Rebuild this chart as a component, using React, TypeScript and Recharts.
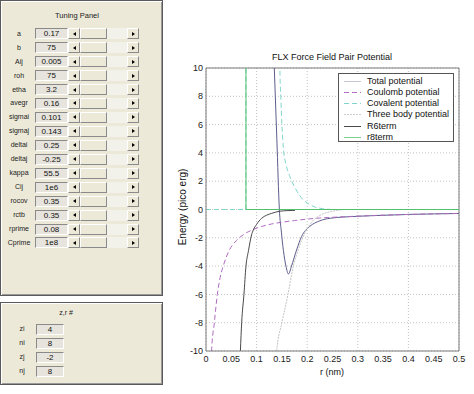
import React from 'react';
import { LineChart, Line, XAxis, YAxis, CartesianGrid, Legend, ReferenceLine } from 'recharts';

// ---- Tuning panel content ----
const paramLabels = ['a', 'b', 'Aij', 'roh', 'etha', 'avegr', 'sigmai', 'sigmaj', 'deltai', 'deltaj', 'kappa', 'Cij', 'rocov', 'rctb', 'rprime', 'Cprime'];
const paramValues = ['0.17', '75', '0.005', '75', '3.2', '0.16', '0.101', '0.143', '0.25', '-0.25', '55.5', '1e6', '0.35', '0.35', '0.08', '1e8'];
const zrLabels = ['zi', 'ni', 'zj', 'nj'];
const zrValues = ['4', '8', '-2', '8'];

// ---- Chart axes ----
const xTicks = [0, 0.05, 0.1, 0.15, 0.2, 0.25, 0.3, 0.35, 0.4, 0.45, 0.5];
const yTicks = [-10, -8, -6, -4, -2, 0, 2, 4, 6, 8, 10];

// ---- Series (r in nm, energy in pico erg) ----
const totalR = [0.128, 0.135, 0.140, 0.145, 0.149, 0.153, 0.158, 0.163, 0.169, 0.179, 0.189, 0.205, 0.225, 0.245, 0.3, 0.35, 0.4, 0.45, 0.5];
const totalE = [17, 10, 5, 0, -1.6, -2.9, -4.0, -4.56, -4.0, -2.86, -1.9, -1.2, -0.8, -0.62, -0.48, -0.41, -0.35, -0.31, -0.28];

const coulombR = [0.008, 0.011, 0.0165, 0.0224, 0.028, 0.034, 0.045, 0.06, 0.075, 0.0935, 0.11, 0.13, 0.15, 0.175, 0.2, 0.225, 0.25, 0.3, 0.35, 0.4, 0.45, 0.5];
const coulombE = [-14, -10, -8, -6, -4.8, -4, -2.95, -2.2, -1.75, -1.41, -1.2, -1.02, -0.9, -0.78, -0.68, -0.6, -0.55, -0.47, -0.4, -0.35, -0.31, -0.28];

const covalentR = [0, 0.079, 0.0791, 0.14, 0.146, 0.148, 0.15, 0.153, 0.158, 0.165, 0.175, 0.185, 0.195, 0.205, 0.215, 0.23, 0.25, 0.5];
const covalentE = [0, 0, 40, 40, 10, 7.8, 6, 4.3, 3.2, 2.4, 1.6, 1.0, 0.6, 0.35, 0.18, 0.06, 0, 0];

const threeBodyR = [0.132, 0.1397, 0.15, 0.162, 0.1726, 0.18, 0.19, 0.2, 0.21, 0.225, 0.25, 0.28, 0.5];
const threeBodyE = [-14, -10, -8, -6, -4, -3.1, -2.1, -1.35, -0.85, -0.42, -0.12, 0, 0];

const r6R = [0.066, 0.068, 0.0705, 0.075, 0.079, 0.084, 0.09, 0.0935, 0.1, 0.11, 0.12, 0.13, 0.146, 0.16, 0.176];
const r6E = [-12, -10, -8, -6, -4, -2.9, -1.8, -1.45, -1.05, -0.62, -0.4, -0.27, -0.12, -0.08, -0.06];

const r8R = [0.0789, 0.079, 0.5];
const r8E = [40, 0, 0];

const zip = (r: number[], e: number[]) => r.map((v, i) => ({ r: v, e: e[i] }));

const SERIES = [
  { name: 'Total potential', data: zip(totalR, totalE), color: '#5d5d8c', swatch: '#c6c6d4', dash: undefined as string | undefined, type: 'monotone' },
  { name: 'Coulomb potential', data: zip(coulombR, coulombE), color: '#b06cc0', swatch: '#b06cc0', dash: '5 3', type: 'monotone' },
  { name: 'Covalent potential', data: zip(covalentR, covalentE), color: '#7fd6cc', swatch: '#7fd6cc', dash: '5 3', type: 'monotone' },
  { name: 'Three body potential', data: zip(threeBodyR, threeBodyE), color: '#c4c4c4', swatch: '#cfcfcf', dash: '2 1', type: 'monotone' },
  { name: 'R6term', data: zip(r6R, r6E), color: '#4a4a4a', swatch: '#4a4a4a', dash: undefined, type: 'monotone' },
  { name: 'r8term', data: zip(r8R, r8E), color: '#52c06c', swatch: '#7ed08e', dash: undefined, type: 'linear' },
];

const FONT = '"Liberation Sans", Arial, sans-serif';
const PANEL_BG = '#ece9d8';

const raised: React.CSSProperties = {
  position: 'absolute',
  boxSizing: 'border-box',
  background: PANEL_BG,
  borderTop: '1px solid #ffffff',
  borderLeft: '1px solid #ffffff',
  borderRight: '1px solid #8a8a8a',
  borderBottom: '1px solid #8a8a8a',
};

const sunken: React.CSSProperties = {
  position: 'absolute',
  boxSizing: 'border-box',
  background: '#e6e4dc',
  borderTop: '1px solid #8a8a8a',
  borderLeft: '1px solid #8a8a8a',
  borderRight: '1px solid #ffffff',
  borderBottom: '1px solid #ffffff',
  textAlign: 'center',
  fontSize: 8,
  lineHeight: '9px',
  color: '#111',
};

function Arrow({ dir }: { dir: 'left' | 'right' }) {
  const st: React.CSSProperties = {
    position: 'absolute',
    left: 4,
    top: 2.5,
    width: 0,
    height: 0,
    borderTop: '2.5px solid transparent',
    borderBottom: '2.5px solid transparent',
  };
  if (dir === 'left') st.borderRight = '3px solid #000';
  else st.borderLeft = '3px solid #000';
  return <div style={st} />;
}

function ParamRow({ label, value, cy }: { label: string; value: string; cy: number }) {
  const top = cy - 5.5;
  return (
    <>
      <div style={{ position: 'absolute', left: 0, width: 38, top: cy - 5, height: 10, lineHeight: '10px', textAlign: 'center', fontSize: 7, color: '#222' }}>{label}</div>
      <div style={{ ...sunken, left: 35, top, width: 33, height: 11 }}>{value}</div>
      <div style={{ ...raised, left: 68, top, width: 12, height: 11 }}><Arrow dir="left" /></div>
      <div style={{ ...raised, left: 80, top, width: 27, height: 11 }} />
      <div style={{ position: 'absolute', left: 107, top, width: 20, height: 11, background: '#f2f1ea' }} />
      <div style={{ ...raised, left: 127, top, width: 12, height: 11 }}><Arrow dir="right" /></div>
    </>
  );
}

function renderLegend() {
  return (
    <div style={{ width: 116, height: 69, boxSizing: 'border-box', border: '1px solid #555', background: '#fff', position: 'relative', fontFamily: FONT }}>
      {SERIES.map((s, i) => (
        <div key={s.name} style={{ position: 'absolute', left: 0, top: 1.5 + i * 11.3, height: 11, width: 114 }}>
          <svg width={20} height={11} style={{ position: 'absolute', left: 4, top: 0 }}>
            <line x1={1} x2={18} y1={5.5} y2={5.5} stroke={s.swatch} strokeWidth={1} strokeDasharray={s.dash} />
          </svg>
          <span style={{ position: 'absolute', left: 28, top: 0, fontSize: 9, lineHeight: '11px', color: '#111', whiteSpace: 'nowrap' }}>{s.name}</span>
        </div>
      ))}
    </div>
  );
}

export default function App() {
  return (
    <div style={{ position: 'absolute', left: 0, top: 0, width: 474, height: 394, background: '#fff', fontFamily: FONT, overflow: 'hidden' }}>
      {/* Tuning Panel */}
      <div style={{ position: 'absolute', left: 0, top: 0, width: 163, height: 296, boxSizing: 'border-box', background: PANEL_BG, border: '1px solid #5a5a5a', boxShadow: 'inset 1px 1px 0 #fff, inset -1px -1px 0 #9a9a9a' }}>
        <div style={{ position: 'absolute', left: 0, width: 152, top: 10, textAlign: 'center', fontSize: 7.5, color: '#222' }}>Tuning Panel</div>
      </div>
      {paramLabels.map((l, i) => (
        <ParamRow key={l + i} label={l} value={paramValues[i]} cy={33.7 + i * 13.95} />
      ))}

      {/* z,r # panel */}
      <div style={{ position: 'absolute', left: 0, top: 302, width: 163, height: 83, boxSizing: 'border-box', background: PANEL_BG, border: '1px solid #5a5a5a', boxShadow: 'inset 1px 1px 0 #fff, inset -1px -1px 0 #9a9a9a' }}>
        <div style={{ position: 'absolute', left: 45, width: 40, top: 6, textAlign: 'center', fontSize: 7, color: '#222' }}>z,r #</div>
      </div>
      {zrLabels.map((l, i) => {
        const cy = 329 + i * 14;
        return (
          <React.Fragment key={l}>
            <div style={{ position: 'absolute', left: 10, width: 24, top: cy - 5, height: 10, lineHeight: '10px', textAlign: 'center', fontSize: 7, color: '#222' }}>{l}</div>
            <div style={{ ...sunken, left: 36, top: cy - 5.5, width: 28, height: 11 }}>{zrValues[i]}</div>
          </React.Fragment>
        );
      })}

      {/* Chart */}
      <div style={{ position: 'absolute', left: 163, top: 0 }}>
        <LineChart width={311} height={394} margin={{ top: 68, right: 15, bottom: 13, left: 0 }}>
          <CartesianGrid stroke="#c2c2c2" strokeDasharray="1 2" />
          <XAxis
            dataKey="r"
            type="number"
            domain={[0, 0.5]}
            ticks={xTicks}
            allowDataOverflow
            height={30}
            tickSize={4}
            tickMargin={1}
            tickLine={false}
            stroke="#7a7a7a"
            tick={{ fontSize: 9, fill: '#1a1a1a', fontFamily: FONT }}
          />
          <YAxis
            type="number"
            domain={[-10, 10]}
            ticks={yTicks}
            allowDataOverflow
            width={43}
            tickSize={3}
            tickMargin={0}
            tickLine={false}
            stroke="#7a7a7a"
            tick={{ fontSize: 9, fill: '#1a1a1a', fontFamily: FONT }}
          />
          <ReferenceLine y={10} stroke="#7a7a7a" />
          <ReferenceLine x={0.5} stroke="#7a7a7a" />
          {SERIES.map((s) => (
            <Line
              key={s.name}
              name={s.name}
              data={s.data}
              dataKey="e"
              type={s.type as any}
              stroke={s.color}
              strokeWidth={1}
              strokeDasharray={s.dash}
              dot={false}
              activeDot={false}
              isAnimationActive={false}
            />
          ))}
          <Legend
            layout="horizontal"
            verticalAlign="middle"
            align="center"
            wrapperStyle={{ left: 175, top: 73, width: 116, height: 69 }}
            content={renderLegend}
          />
        </LineChart>
      </div>

      {/* Titles */}
      <div style={{ position: 'absolute', left: 232, width: 200, top: 52, textAlign: 'center', fontSize: 9, color: '#111', whiteSpace: 'nowrap' }}>FLX Force Field Pair Potential</div>
      <div style={{ position: 'absolute', left: 182, top: 207, transform: 'translate(-50%, -50%) rotate(-90deg)', fontSize: 10, color: '#111', whiteSpace: 'nowrap' }}>Energy (pico erg)</div>
      <div style={{ position: 'absolute', left: 282, width: 100, top: 367, textAlign: 'center', fontSize: 9, color: '#111' }}>r (nm)</div>
    </div>
  );
}
